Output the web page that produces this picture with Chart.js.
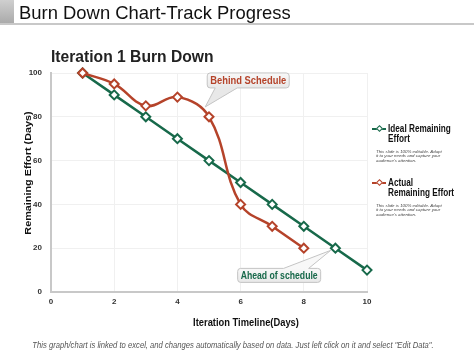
<!DOCTYPE html>
<html><head><meta charset="utf-8">
<script src="https://cdn.jsdelivr.net/npm/chart.js@4/dist/chart.umd.min.js"></script>
<style>
html,body{margin:0;padding:0;background:#fff;width:474px;height:355px;overflow:hidden;font-family:"Liberation Sans",Arial,sans-serif;}
#wrap{position:relative;width:474px;height:355px;}
canvas{position:absolute;left:0;top:0;}
.hdrbar{position:absolute;left:0;top:0;width:14px;height:24px;background:linear-gradient(#cfcfcf,#a9a9a9);}
.hdrline{position:absolute;left:0;top:23px;width:474px;height:2px;background:#c8c8c8;}
.hdr{position:absolute;left:19px;top:2px;font-size:19px;color:#111;white-space:nowrap;transform:scaleX(0.97);transform-origin:left;}
.ctitle{position:absolute;left:51px;top:47px;font-size:17px;font-weight:bold;color:#222;white-space:nowrap;transform:scaleX(0.92);transform-origin:left;}
.ytitle{position:absolute;left:27px;top:173px;font-size:9.5px;font-weight:bold;color:#111;white-space:nowrap;transform:translate(-50%,-50%) rotate(-90deg) scaleX(1.14);}
.xtitle{position:absolute;left:246px;top:322px;font-size:11px;font-weight:bold;color:#111;white-space:nowrap;transform:translate(-50%,-50%) scaleX(0.85);}
.leg{position:absolute;left:372px;width:102px;}
.leg .nm{position:relative;padding-left:16px;font-size:10px;font-weight:bold;color:#111;line-height:10px;white-space:nowrap;}
.leg .nm span.t{display:inline-block;transform:scaleX(0.82);transform-origin:left;}
.leg .ic{position:absolute;left:0;top:4px;width:14px;height:2px;}
.leg .ic i{position:absolute;left:5px;top:-2px;width:3px;height:3px;border:1px solid;background:#fff;transform:rotate(45deg);}
.leg .ds{font-size:4.4px;font-style:italic;color:#444;line-height:4.4px;margin-top:6px;margin-left:4px;white-space:nowrap;}
.foot{position:absolute;left:233px;top:345px;font-size:9px;font-style:italic;color:#555;white-space:nowrap;transform:translate(-50%,-50%) scaleX(0.85);}
</style></head>
<body><div id="wrap">
<canvas id="c" width="474" height="355"></canvas>
<div class="hdrbar"></div><div class="hdrline"></div>
<div class="hdr">Burn Down Chart-Track Progress</div>
<div class="ctitle">Iteration 1 Burn Down</div>
<div class="ytitle">Remaining Effort (Days)</div>
<div class="xtitle">Iteration Timeline(Days)</div>
<div class="leg" style="top:124px"><div class="nm"><span class="ic" style="background:#17694a"><i style="border-color:#17694a"></i></span><span class="t">Ideal Remaining<br>Effort</span></div>
<div class="ds">This slide is 100% editable. Adapt<br>it to your needs and capture your<br>audience's attention.</div></div>
<div class="leg" style="top:178px"><div class="nm"><span class="ic" style="background:#b5432a"><i style="border-color:#b5432a"></i></span><span class="t">Actual<br>Remaining Effort</span></div>
<div class="ds">This slide is 100% editable. Adapt<br>it to your needs and capture your<br>audience's attention.</div></div>
<div class="foot">This graph/chart is linked to excel, and changes automatically based on data. Just left click on it and select "Edit Data".</div>
</div>
<script>
const idealDays = [1,2,3,4,5,6,7,8,9,10];
const idealEffort = [100,90,80,70,60,50,40,30,20,10];
const actualDays = [1,2,3,4,5,6,7,8];
const actualEffort = [100,95,85,89,80,40,30,20];
const xTicks = [0,2,4,6,8,10];
const yTicks = [0,20,40,60,80,100];
const seriesNames = ["Ideal Remaining Effort","Actual Remaining Effort"];
const calloutTexts = ["Behind Schedule","Ahead of schedule"];

const GREEN = '#17694a', RED = '#b5432a';
const toPts = (xs, ys) => xs.map((x,i)=>({x, y: ys[i]}));

const callouts = {
  id: 'callouts',
  afterDatasetsDraw(chart){
    const ctx = chart.ctx, xs = chart.scales.x, ys = chart.scales.y;
    const draw = (tipX, tipY, box, base, text, color) => {
      ctx.save();
      ctx.beginPath();
      const [l,t,r,b] = box, rad = 3;
      ctx.moveTo(l+rad,t);
      if (base.side === 'top') { ctx.lineTo(base.a,t); ctx.lineTo(tipX,tipY); ctx.lineTo(base.b,t); }
      ctx.lineTo(r-rad,t); ctx.quadraticCurveTo(r,t,r,t+rad);
      ctx.lineTo(r,b-rad); ctx.quadraticCurveTo(r,b,r-rad,b);
      if (base.side === 'bottom') { ctx.lineTo(base.b,b); ctx.lineTo(tipX,tipY); ctx.lineTo(base.a,b); }
      ctx.lineTo(l+rad,b); ctx.quadraticCurveTo(l,b,l,b-rad);
      ctx.lineTo(l,t+rad); ctx.quadraticCurveTo(l,t,l+rad,t);
      ctx.closePath();
      const g = ctx.createLinearGradient(0,t,0,b);
      g.addColorStop(0,'#f8f8f8'); g.addColorStop(1,'#e8e8e8');
      ctx.fillStyle = g; ctx.fill();
      ctx.strokeStyle = '#c4c4c4'; ctx.lineWidth = 1; ctx.stroke();
      ctx.fillStyle = color;
      ctx.font = 'bold 10px "Liberation Sans", Arial, sans-serif';
      ctx.textAlign = 'center'; ctx.textBaseline = 'middle';
      ctx.fillText(text, (l+r)/2, (t+b)/2+0.5, r-l-6);
      ctx.restore();
    };
    let tx = xs.getPixelForValue(4.88), ty = ys.getPixelForValue(84.5);
    draw(tx, ty, [tx+2, ty-34, tx+84, ty-19], {side:'bottom', a: tx+10, b: tx+32}, calloutTexts[0], RED);
    tx = xs.getPixelForValue(8.85); ty = ys.getPixelForValue(19);
    draw(tx, ty, [tx-93, ty+18, tx-10, ty+32], {side:'top', a: tx-47, b: tx-22}, calloutTexts[1], GREEN);
  }
};

const tickFont = { size: 8, weight: 'bold', family: '"Liberation Sans", Arial' };
new Chart(document.getElementById('c'), {
  type: 'scatter',
  data: { datasets: [
    { label: seriesNames[1], data: toPts(actualDays, actualEffort), showLine: true, tension: 0.4, clip: false,
      borderColor: RED, borderWidth: 2.5, pointStyle: 'rectRot', pointRadius: 4.5,
      pointBackgroundColor: '#fff', pointBorderColor: RED, pointBorderWidth: 2 },
    { label: seriesNames[0], data: toPts(idealDays, idealEffort), showLine: true, tension: 0, clip: false,
      borderColor: GREEN, borderWidth: 2.5, pointStyle: 'rectRot', pointRadius: 4.5,
      pointBackgroundColor: '#fff', pointBorderColor: GREEN, pointBorderWidth: 2 }
  ]},
  options: {
    responsive: false, animation: false, devicePixelRatio: 1,
    layout: { padding: { top: 73, right: 107, bottom: 0, left: 0 } },
    plugins: { legend: { display: false }, tooltip: { enabled: false } },
    scales: {
      x: { type: 'linear', min: 0, max: 10,
        afterBuildTicks(s){ s.ticks = xTicks.map(v=>({value:v})); },
        afterFit(s){ s.height = 63; },
        grid: { color: '#f0f0f0', drawTicks: false },
        border: { color: '#c8c8c8', width: 2 },
        ticks: { padding: 5, color: '#333', font: tickFont } },
      y: { min: 0, max: 100,
        afterBuildTicks(s){ s.ticks = yTicks.map(v=>({value:v})); },
        afterFit(s){ s.width = 51; },
        grid: { color: '#f0f0f0', drawTicks: false },
        border: { color: '#c8c8c8', width: 2 },
        ticks: { padding: 9, color: '#333', font: tickFont } }
    }
  },
  plugins: [callouts]
});
</script>
</body></html>
